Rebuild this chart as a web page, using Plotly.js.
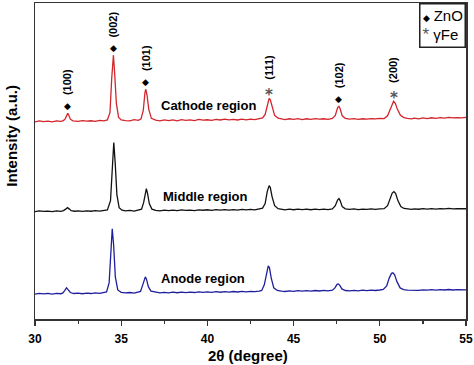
<!DOCTYPE html>
<html>
<head>
<meta charset="utf-8">
<script src="https://cdn.plot.ly/plotly-3.0.1.min.js"></script>
<style>html,body{margin:0;padding:0;background:#fff}#chart{width:474px;height:365px}</style>
</head>
<body>
<div id="chart"></div>
<script>
// ---- data ----
const cathodeX = [30.0,30.25,30.5,30.75,31.0,31.25,31.5,31.65,31.75,31.85,31.9,31.95,32.05,32.2,32.5,32.75,33.0,33.25,33.5,33.75,34.0,34.2,34.35,34.45,34.55,34.62,34.72,34.85,35.0,35.25,35.5,35.75,36.0,36.15,36.28,36.38,36.43,36.5,36.6,36.75,37.0,37.25,37.5,37.75,38.0,38.25,38.5,38.75,39.0,39.25,39.5,39.75,40.0,40.25,40.5,40.75,41.0,41.25,41.5,41.75,42.0,42.25,42.5,42.75,43.0,43.2,43.35,43.48,43.58,43.65,43.75,43.9,44.1,44.3,44.5,44.75,45.0,45.25,45.5,45.75,46.0,46.25,46.5,46.75,47.0,47.25,47.42,47.55,47.63,47.7,47.82,48.0,48.25,48.5,48.75,49.0,49.25,49.5,49.75,50.0,50.25,50.45,50.6,50.72,50.8,50.9,51.02,51.2,51.4,51.6,51.85,52.0,52.25,52.5,52.75,53.0,53.25,53.5,53.75,54.0,54.25,54.5,54.75,55.0];
const cathodeY = [1965,1975,1968,1972,1966,1975,1970,1978,1995,2040,2050,2035,1992,1975,1970,1978,1972,1976,1970,1980,1975,1985,2060,2400,2630,2450,2150,2010,1985,1978,1975,1988,1980,1995,2080,2260,2290,2230,2090,2000,1982,1976,1985,1978,1984,1976,1988,1980,1985,1978,1990,1982,1986,1980,1990,1984,1992,1985,1990,1984,1993,1986,1992,1988,1995,2005,2040,2140,2200,2185,2110,2030,2002,1992,1988,1996,1990,1998,1988,1996,1990,1998,1992,1996,1990,2000,2030,2105,2120,2095,2025,2000,1992,1998,1990,1996,1992,1998,1994,2000,1998,2025,2090,2155,2170,2150,2090,2030,2008,2000,1995,2002,1996,2004,1998,2006,2000,2008,2002,2010,2004,2008,2005,2010];

const middleX = [30.0,30.25,30.5,30.75,31.0,31.25,31.5,31.65,31.78,31.88,31.98,32.1,32.3,32.5,32.75,33.0,33.25,33.5,33.75,34.0,34.2,34.38,34.48,34.57,34.65,34.75,34.88,35.05,35.25,35.5,35.75,36.0,36.18,36.3,36.4,36.46,36.53,36.63,36.78,37.0,37.25,37.5,37.75,38.0,38.25,38.5,38.75,39.0,39.25,39.5,39.75,40.0,40.25,40.5,40.75,41.0,41.25,41.5,41.75,42.0,42.25,42.5,42.75,43.0,43.2,43.35,43.47,43.58,43.65,43.75,43.9,44.1,44.3,44.5,44.75,45.0,45.25,45.5,45.75,46.0,46.25,46.5,46.75,47.0,47.25,47.42,47.55,47.63,47.7,47.82,48.0,48.25,48.5,48.75,49.0,49.25,49.5,49.75,50.0,50.25,50.45,50.6,50.72,50.82,50.92,51.05,51.22,51.4,51.6,51.85,52.0,52.25,52.5,52.75,53.0,53.25,53.5,53.75,54.0,54.25,54.5,54.75,55.0];
const middleY = [1070,1078,1072,1076,1070,1078,1073,1080,1095,1110,1098,1080,1074,1078,1072,1078,1074,1080,1075,1080,1088,1180,1500,1760,1560,1240,1110,1085,1078,1082,1076,1083,1095,1160,1280,1300,1250,1150,1095,1082,1078,1085,1080,1086,1080,1088,1082,1086,1080,1088,1084,1089,1083,1090,1085,1091,1086,1090,1086,1092,1087,1093,1088,1094,1105,1150,1270,1330,1310,1220,1130,1100,1092,1088,1095,1089,1096,1090,1095,1089,1096,1091,1095,1090,1098,1130,1185,1200,1180,1120,1098,1092,1097,1090,1096,1092,1097,1093,1098,1100,1130,1200,1255,1270,1250,1180,1120,1102,1096,1092,1098,1094,1100,1095,1100,1096,1101,1097,1102,1097,1100,1096,1099];

const anodeX = [30.0,30.25,30.5,30.75,31.0,31.25,31.5,31.62,31.73,31.83,31.93,32.05,32.25,32.5,32.75,33.0,33.25,33.5,33.75,34.0,34.15,34.3,34.4,34.48,34.56,34.66,34.8,35.0,35.25,35.5,35.75,36.0,36.12,36.25,36.35,36.4,36.47,36.58,36.73,37.0,37.25,37.5,37.75,38.0,38.25,38.5,38.75,39.0,39.25,39.5,39.75,40.0,40.25,40.5,40.75,41.0,41.25,41.5,41.75,42.0,42.25,42.5,42.75,43.0,43.15,43.3,43.43,43.53,43.6,43.7,43.85,44.05,44.3,44.5,44.75,45.0,45.25,45.5,45.75,46.0,46.25,46.5,46.75,47.0,47.25,47.4,47.52,47.6,47.68,47.8,48.0,48.25,48.5,48.75,49.0,49.25,49.5,49.75,50.0,50.2,50.4,50.55,50.68,50.76,50.86,51.0,51.18,51.38,51.6,51.85,52.0,52.25,52.5,52.75,53.0,53.25,53.5,53.75,54.0,54.25,54.5,54.75,55.0];
const anodeY = [248,256,250,255,249,256,252,260,285,310,290,264,254,258,252,258,254,260,255,260,270,360,700,900,740,420,290,266,260,264,258,265,275,340,410,420,395,320,278,265,260,266,261,267,262,268,263,268,264,270,265,271,266,272,267,273,268,274,269,275,270,276,272,277,285,340,470,530,510,410,310,285,278,274,280,276,282,277,283,278,284,279,285,280,287,310,345,350,335,300,284,280,286,281,287,282,288,284,289,295,330,410,455,460,440,370,310,293,288,285,290,286,291,287,292,288,293,289,294,289,292,288,291];

const regionNames = ["Cathode region", "Middle region", "Anode region"];
const peakPositions = [31.9, 34.55, 36.43, 43.6, 47.63, 50.8];
const peakLabels = ["(100)", "(002)", "(101)", "(111)", "(102)", "(200)"];
const peakPhases = ["ZnO", "ZnO", "ZnO", "γFe", "ZnO", "γFe"];
const xTicks = [30, 35, 40, 45, 50, 55];
const xTitle = "2θ (degree)";
const yTitle = "Intensity (a.u.)";

// ---- chart ----
const colors = ["#d2262c", "#111111", "#1f1f9e"];
const series = [[cathodeX, cathodeY], [middleX, middleY], [anodeX, anodeY]];
const traces = series.map((s, i) => ({
  x: s[0], y: s[1], type: "scatter", mode: "lines",
  name: regionNames[i], line: {color: colors[i], width: 1.3}, hoverinfo: "skip"
}));

function topNear(xs, ys, p) {
  let m = -Infinity;
  for (let i = 0; i < xs.length; i++) if (Math.abs(xs[i] - p) <= 0.15) m = Math.max(m, ys[i]);
  return m;
}

const bold = "Liberation Sans, Arial, sans-serif";
const annotations = [];
peakPositions.forEach((p, i) => {
  const top = topNear(cathodeX, cathodeY, p);
  const isZnO = peakPhases[i] === "ZnO";
  annotations.push({
    x: p, y: top, xref: "x", yref: "y", showarrow: false,
    text: isZnO ? "◆" : "<b>*</b>", yshift: isZnO ? 7 : 3,
    font: {family: "DejaVu Sans", size: isZnO ? 9 : 15, color: isZnO ? "#000" : "#555"},
    xanchor: "center", yanchor: "middle"
  });
  annotations.push({
    x: p, y: top, xref: "x", yref: "y", showarrow: false,
    text: "<b>" + peakLabels[i] + "</b>", textangle: -90, yshift: 31,
    font: {family: bold, size: 11, color: "#000"},
    xanchor: "center", yanchor: "middle"
  });
});
const regionPos = [[37.2, 2130], [37.3, 1220], [37.2, 400]];
regionNames.forEach((n, i) => {
  annotations.push({
    x: regionPos[i][0], y: regionPos[i][1], xref: "x", yref: "y", showarrow: false,
    text: "<b>" + n + "</b>", xanchor: "left", yanchor: "middle",
    font: {family: bold, size: 13, color: "#000"}
  });
});
annotations.push({
  x: 1, y: 1, xref: "paper", yref: "paper", xanchor: "right", yanchor: "top",
  showarrow: false, align: "left",
  text: "<span style='font-size:9px'>◆</span> ZnO<br><span style='color:#555;font-size:17px'>*</span> γFe",
  font: {family: bold, size: 15, color: "#000"},
  bordercolor: "#222", borderwidth: 1.5, borderpad: 2, bgcolor: "#fff"
});
// axis titles
annotations.push({
  x: 0.494, y: 0, xref: "paper", yref: "paper", showarrow: false,
  xanchor: "center", yanchor: "middle", yshift: -36,
  text: "<b>" + xTitle + "</b>", font: {family: bold, size: 15, color: "#000"}
});
annotations.push({
  x: 0, y: 0.58, xref: "paper", yref: "paper", showarrow: false,
  xanchor: "center", yanchor: "middle", xshift: -23, textangle: -90,
  text: "<b>" + yTitle + "</b>", font: {family: bold, size: 15, color: "#000"}
});

const layout = {
  width: 474, height: 365,
  margin: {l: 35, r: 8, t: 3, b: 46},
  paper_bgcolor: "#fff", plot_bgcolor: "#fff",
  showlegend: false,
  xaxis: {
    range: [30, 55], tickvals: xTicks, ticktext: xTicks.map(v => "<b>" + v + "</b>"),
    ticks: "outside", ticklen: 5, tickwidth: 1.2, tickcolor: "#333",
    minor: {dtick: 2.5, tick0: 30, ticks: "outside", ticklen: 3, tickcolor: "#333"},
    ticklabelstandoff: 3,
    showgrid: false, zeroline: false, showline: true, mirror: true,
    linecolor: "#333", linewidth: 1.5,
    tickfont: {family: bold, size: 12, color: "#000"}
  },
  yaxis: {
    range: [0, 3150], showticklabels: false, ticks: "",
    showgrid: false, zeroline: false, showline: true, mirror: true,
    linecolor: "#333", linewidth: 1.5
  },
  annotations: annotations
};

Plotly.newPlot("chart", traces, layout, {displayModeBar: false, staticPlot: true});
</script>
</body>
</html>
